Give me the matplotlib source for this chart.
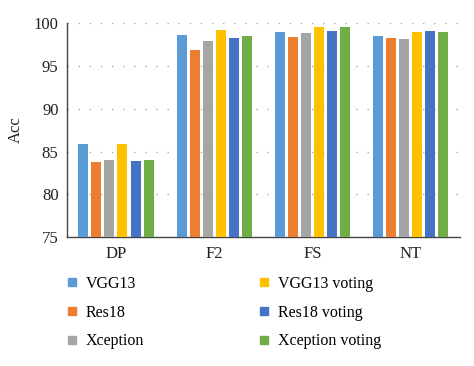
import matplotlib
matplotlib.use("Agg")
import matplotlib.pyplot as plt
from matplotlib.lines import Line2D
import numpy as np

categories = ["DP", "F2", "FS", "NT"]
series_names = ["VGG13", "Res18", "Xception", "VGG13 voting", "Res18 voting", "Xception voting"]
vgg13 = [85.9, 98.6, 99.0, 98.5]
res18 = [83.8, 96.8, 98.4, 98.2]
xception = [84.0, 97.9, 98.8, 98.1]
vgg13_voting = [85.9, 99.2, 99.5, 99.0]
res18_voting = [83.9, 98.2, 99.1, 99.1]
xception_voting = [84.0, 98.5, 99.5, 98.9]
colors = ["#5B9BD5", "#ED7D31", "#A5A5A5", "#FFC000", "#4472C4", "#70AD47"]

plt.rcParams['font.family'] = ['Liberation Serif', 'DejaVu Serif']

fig = plt.figure(figsize=(4.74, 3.66), dpi=100)
ax = fig.add_axes([0.141, 0.352, 0.829, 0.585])

data = [vgg13, res18, xception, vgg13_voting, res18_voting, xception_voting]
x = np.arange(len(categories))
step = 0.133
width = 0.102
for i, (vals, name, c) in enumerate(zip(data, series_names, colors)):
    ax.bar(x + (i - 2.5) * step, vals, width=width, color=c, label=name, zorder=3)

ax.set_ylim(75, 100)
ax.set_xlim(-0.5, 3.5)
ax.set_yticks([75, 80, 85, 90, 95, 100])
ax.set_xticks(x)
ax.set_xticklabels(categories)
ax.tick_params(axis='both', length=0, labelsize=12, colors='#222222', pad=6)
ax.set_ylabel("Acc", fontsize=12, color='#222222', labelpad=7)
ax.grid(axis='y', linestyle=(0, (1, 7)), color='#aaaaaa', linewidth=1.0, zorder=0)
for s in ['top', 'right']:
    ax.spines[s].set_visible(False)
for s in ['left', 'bottom']:
    ax.spines[s].set_color('#444444')
    ax.spines[s].set_linewidth(1.0)

handles = [Line2D([0], [0], marker='s', linestyle='none', markersize=5.5,
                  markerfacecolor=c, markeredgecolor=c) for c in colors]
fig.legend(handles, series_names, ncol=2, loc='upper left',
           bbox_to_anchor=(0.122, 0.268), frameon=False, fontsize=11.5,
           labelspacing=0.8, columnspacing=7.1, handlelength=0.8,
           handletextpad=0.45, borderpad=0)

fig.savefig("out.png", dpi=100)
